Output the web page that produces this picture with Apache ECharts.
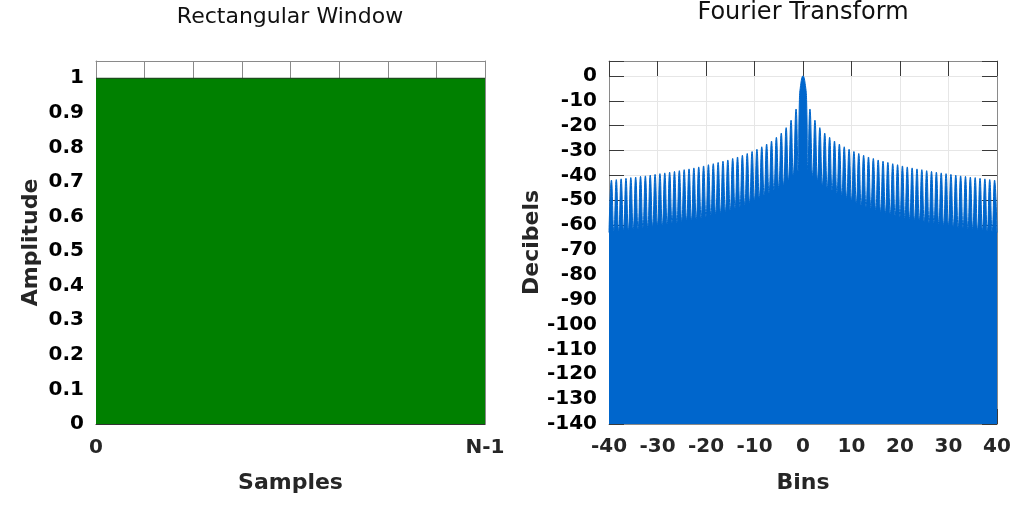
<!DOCTYPE html>
<html>
<head>
<meta charset="utf-8">
<script src="https://cdn.jsdelivr.net/npm/echarts@6/dist/echarts.min.js"></script>
<style>
  html, body { margin: 0; padding: 0; background: #ffffff; }
  #chart { width: 1024px; height: 512px; }
</style>
</head>
<body>
<div id="chart"></div>
<script>
// ---------- Left panel: rectangular window ----------
const sampleIndex = [0, 1, 2, 3, 4, 5, 6, 7, 8];
const windowValues = [1, 1, 1, 1, 1, 1, 1, 1, 1];
const sampleTickLabels = { 0: '0', 8: 'N-1' };

// ---------- Right panel: Fourier transform (dB) ----------
const mainLobeBins = [-0.75, -0.5, 0, 0.5, 0.75];
const mainLobeDb = [-10.5, -3.9, 0, -3.9, -10.5];

// side-lobe peak positions (positive side; mirrored on the negative side)
const sidelobeBins = [1.43, 2.46, 3.47, 4.48, 5.49, 6.49, 7.5, 8.5, 9.5, 10.5,
  11.5, 12.5, 13.5, 14.5, 15.5, 16.5, 17.5, 18.5, 19.5, 20.5,
  21.5, 22.5, 23.5, 24.5, 25.5, 26.5, 27.5, 28.5, 29.5, 30.5,
  31.5, 32.5, 33.5, 34.5, 35.5, 36.5, 37.5, 38.5, 39.5];
const sidelobeDb = [-13.3, -17.8, -20.8, -23.0, -24.7, -26.2, -27.4, -28.5, -29.5, -30.4,
  -31.2, -31.9, -32.6, -33.2, -33.8, -34.3, -34.8, -35.3, -35.7, -36.2,
  -36.6, -37.0, -37.4, -37.7, -38.1, -38.4, -38.7, -39.0, -39.3, -39.6,
  -39.9, -40.2, -40.4, -40.7, -40.9, -41.2, -41.4, -41.7, -41.9];
// visible depth of the dips between lobes
const dipBins = [1, 2, 3, 4, 5, 6, 7, 8, 9, 10,
  11, 12, 13, 14, 15, 16, 17, 18, 19, 20,
  21, 22, 23, 24, 25, 26, 27, 28, 29, 30,
  31, 32, 33, 34, 35, 36, 37, 38, 39, 40];
const dipDb = [-38, -40, -42, -44, -45, -46, -47, -48, -49, -50,
  -51, -52, -52.5, -53, -54, -54.5, -55, -55.5, -56, -56.5,
  -57, -57.5, -58, -58, -58.5, -59, -59, -59.5, -60, -60,
  -60.5, -61, -61, -61.5, -61.5, -62, -62, -62.5, -62.5, -63];
const binTicks = [-40, -30, -20, -10, 0, 10, 20, 30, 40];

// build the spectrum points (x in bins, y in dB)
const positive = [];
for (let i = 0; i < dipBins.length; i++) {
  positive.push([dipBins[i], dipDb[i]]);
  if (i < sidelobeBins.length) positive.push([sidelobeBins[i], sidelobeDb[i]]);
}
const negative = positive.map(p => [-p[0], p[1]]).reverse();
const main = mainLobeBins.map((b, i) => [b, mainLobeDb[i]]);
const spectrum = negative.concat(main, positive);

const FONT = 'DejaVu Sans';
const borderColor = '#8a8a8a';
const tickColor = '#3a3a3a';

const chart = echarts.init(document.getElementById('chart'), null, { renderer: 'canvas' });

const option = {
  animation: false,
  backgroundColor: '#ffffff',
  title: [
    { text: 'Rectangular Window', left: 290, top: 6, textAlign: 'center', padding: 0,
      textStyle: { fontFamily: FONT, fontSize: 22, fontWeight: 'normal', color: '#111' } },
    { text: 'Fourier Transform', left: 803, top: 1, textAlign: 'center', padding: 0,
      textStyle: { fontFamily: FONT, fontSize: 24, fontWeight: 'normal', color: '#111' } }
  ],
  grid: [
    { left: 96, top: 61, width: 389, height: 363, containLabel: false, outerBoundsMode: 'none' },
    { left: 609, top: 61, width: 388, height: 363, containLabel: false, outerBoundsMode: 'none' }
  ],
  xAxis: [
    { // left bottom
      type: 'value', gridIndex: 0, min: 0, max: 8, interval: 1, position: 'bottom',
      name: 'Samples', nameLocation: 'middle', nameGap: 48,
      nameTextStyle: { fontFamily: FONT, fontSize: 22, fontWeight: 'bold', color: '#262626' },
      axisLine: { onZero: false, lineStyle: { color: '#333', width: 1 } },
      axisTick: { show: false },
      splitLine: { show: false },
      axisLabel: { margin: 14, fontFamily: FONT, fontSize: 20, fontWeight: 'bold', color: '#262626',
        formatter: v => (sampleTickLabels[v] !== undefined ? sampleTickLabels[v] : '') }
    },
    { // left top
      type: 'value', gridIndex: 0, min: 0, max: 8, interval: 1, position: 'top',
      axisLine: { onZero: false, lineStyle: { color: borderColor, width: 1 } },
      axisTick: { show: true, inside: true, length: 20, lineStyle: { color: borderColor, width: 1 } },
      axisLabel: { show: false }, splitLine: { show: false }
    },
    { // right bottom
      type: 'value', gridIndex: 1, min: -40, max: 40, interval: 10, position: 'bottom',
      name: 'Bins', nameLocation: 'middle', nameGap: 48,
      nameTextStyle: { fontFamily: FONT, fontSize: 22, fontWeight: 'bold', color: '#262626' },
      axisLine: { onZero: false, lineStyle: { color: borderColor, width: 1 } },
      axisTick: { show: true, inside: true, length: 15, lineStyle: { color: tickColor, width: 1 } },
      splitLine: { show: true, lineStyle: { color: '#e6e6e6', width: 1 } },
      axisLabel: { margin: 13, fontFamily: FONT, fontSize: 20, fontWeight: 'bold', color: '#262626',
        formatter: v => (binTicks.indexOf(v) >= 0 ? String(v) : '') }
    },
    { // right top
      type: 'value', gridIndex: 1, min: -40, max: 40, interval: 10, position: 'top',
      axisLine: { onZero: false, lineStyle: { color: borderColor, width: 1 } },
      axisTick: { show: true, inside: true, length: 15, lineStyle: { color: tickColor, width: 1 } },
      axisLabel: { show: false }, splitLine: { show: false }
    }
  ],
  yAxis: [
    { // left
      type: 'value', gridIndex: 0, min: 0, max: 1.05, interval: 0.1, position: 'left',
      name: 'Amplitude', nameLocation: 'middle', nameGap: 54,
      nameTextStyle: { fontFamily: FONT, fontSize: 22, fontWeight: 'bold', color: '#262626' },
      axisLine: { show: true, onZero: false, lineStyle: { color: borderColor, width: 1 } },
      axisTick: { show: false }, splitLine: { show: false },
      axisLabel: { margin: 12, fontFamily: FONT, fontSize: 20, fontWeight: 'bold', color: '#000',
        formatter: v => (v > 1.001 ? '' : String(Math.round(v * 10) / 10)) }
    },
    { // left-panel right edge
      type: 'value', gridIndex: 0, min: 0, max: 1.05, interval: 0.1, position: 'right',
      axisLine: { show: true, onZero: false, lineStyle: { color: borderColor, width: 1 } },
      axisTick: { show: false }, axisLabel: { show: false }, splitLine: { show: false }
    },
    { // right panel left
      type: 'value', gridIndex: 1, min: -140, max: 6, interval: 10, position: 'left',
      name: 'Decibels', nameLocation: 'middle', nameGap: 62,
      nameTextStyle: { fontFamily: FONT, fontSize: 22, fontWeight: 'bold', color: '#262626' },
      axisLine: { show: true, onZero: false, lineStyle: { color: borderColor, width: 1 } },
      axisTick: { show: true, inside: true, length: 15, lineStyle: { color: tickColor, width: 1 } },
      splitLine: { show: true, lineStyle: { color: '#e6e6e6', width: 1 } },
      axisLabel: { margin: 12, fontFamily: FONT, fontSize: 20, fontWeight: 'bold', color: '#000',
        formatter: v => (v > 0.5 ? '' : String(v)) }
    },
    { // right panel right edge
      type: 'value', gridIndex: 1, min: -140, max: 6, interval: 10, position: 'right',
      axisLine: { show: true, onZero: false, lineStyle: { color: borderColor, width: 1 } },
      axisTick: { show: true, inside: true, length: 15, lineStyle: { color: tickColor, width: 1 } },
      axisLabel: { show: false }, splitLine: { show: false }
    }
  ],
  series: [
    {
      type: 'line', xAxisIndex: 0, yAxisIndex: 0,
      data: sampleIndex.map((s, i) => [s, windowValues[i]]),
      showSymbol: false, symbol: 'none',
      lineStyle: { color: '#1d4d1d', width: 1.2 },
      areaStyle: { color: '#008000', opacity: 1 },
      silent: true
    },
    {
      type: 'line', xAxisIndex: 2, yAxisIndex: 2,
      data: spectrum,
      showSymbol: false, symbol: 'none', smooth: 0.5,
      lineStyle: { color: '#0066cc', width: 1 },
      areaStyle: { color: '#0066cc', opacity: 1, origin: 'start' },
      silent: true
    }
  ]
};
chart.setOption(option);
</script>
</body>
</html>
